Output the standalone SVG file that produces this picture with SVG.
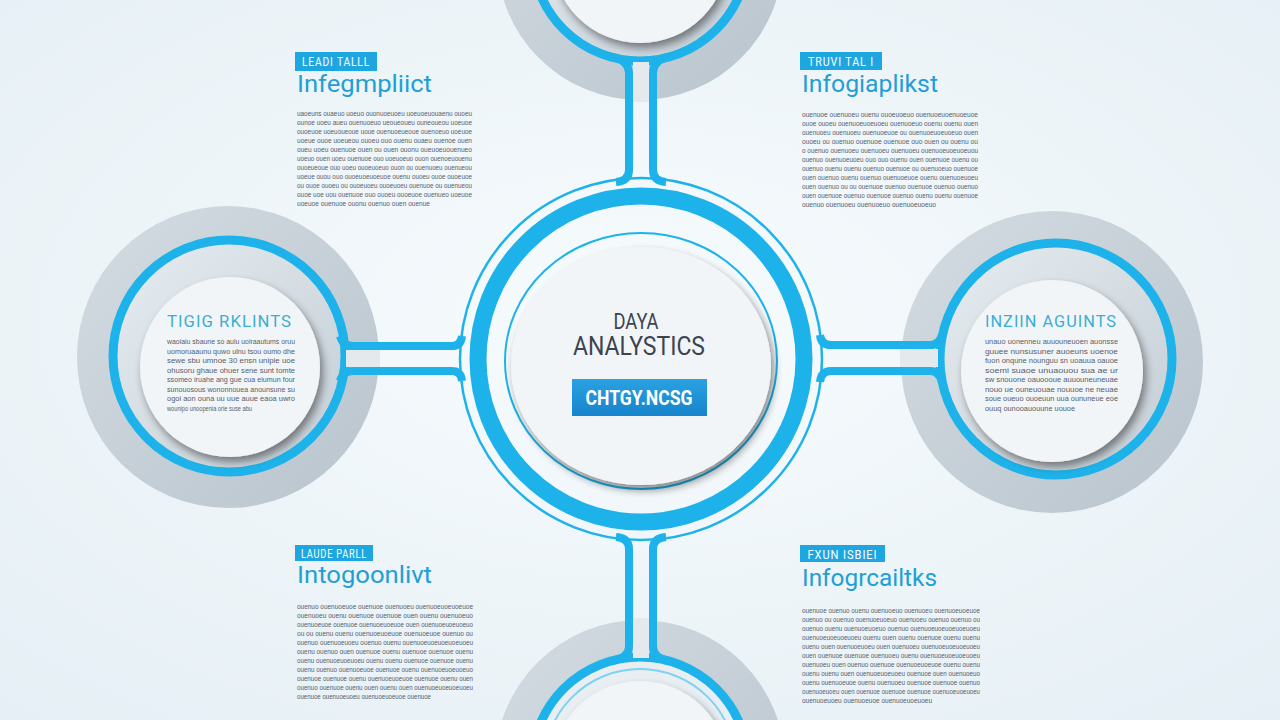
<svg xmlns="http://www.w3.org/2000/svg" width="1280" height="720" viewBox="0 0 1280 720">
<defs>
<style>
.blue{fill:none;stroke:#1db3ea}
.conn{fill:none;stroke:#1db3ea;stroke-width:8;stroke-linecap:butt}
.badge{fill:#1ea6e1}
.badgeT{font-family:Roboto,"Liberation Sans",sans-serif;font-size:12px;fill:#ffffff;letter-spacing:1px}
.title{font-family:Roboto,"DejaVu Sans",sans-serif;font-size:23px;fill:#1f9fd6}
.ctitle{font-family:Roboto,"DejaVu Sans",sans-serif;font-size:16px;fill:#3aaed2;letter-spacing:1px}
.body{font-family:"Liberation Sans",Arial,sans-serif;font-size:7px;fill:#55606a}
.disc{fill:#f2f5f8}
.halo{fill:url(#gHalo)}
</style>
<radialGradient id="gBg" cx="50%" cy="45%" r="75%">
<stop offset="0" stop-color="#f7fbfd"/>
<stop offset="1" stop-color="#e5eff5"/>
</radialGradient>
<linearGradient id="gHalo" x1="0" y1="0" x2="1" y2="1">
<stop offset="0" stop-color="#d4dce2"/>
<stop offset="1" stop-color="#b9c4cd"/>
</linearGradient>
<linearGradient id="gBand" x1="0" y1="0" x2="1" y2="1">
<stop offset="0" stop-color="#e6ecf0"/>
<stop offset="1" stop-color="#c4ced6"/>
</linearGradient>
<linearGradient id="gBadge" x1="0" y1="0" x2="0" y2="1">
<stop offset="0" stop-color="#2aa2e2"/>
<stop offset="1" stop-color="#1683cc"/>
</linearGradient>
<filter id="sh" x="-20%" y="-20%" width="140%" height="140%">
<feGaussianBlur in="SourceAlpha" stdDeviation="4"/>
<feOffset dx="3" dy="5" result="o"/>
<feComponentTransfer><feFuncA type="linear" slope="0.45"/></feComponentTransfer>
<feMerge><feMergeNode/><feMergeNode in="SourceGraphic"/></feMerge>
</filter>
</defs>

<rect width="1280" height="720" fill="url(#gBg)"/>

<!-- peripheral nodes -->
<g id="node-top">
<circle class="halo" cx="640" cy="-43" r="143"/>
<circle cx="640" cy="-47" r="104" fill="url(#gBand)"/>
<circle class="blue" cx="640" cy="-47" r="108" stroke-width="9"/>
<circle class="disc" cx="640" cy="-45" r="88" filter="url(#sh)"/>
</g>
<g id="node-bottom">
<circle class="halo" cx="640" cy="765" r="145"/>
<circle cx="640" cy="765" r="104" fill="#e8eef2"/>
<circle class="blue" cx="640" cy="765" r="108" stroke-width="9"/>
<circle cx="640" cy="765" r="96" fill="none" stroke="#7fd3f2" stroke-width="2"/>
<circle class="disc" cx="640" cy="769" r="88" filter="url(#sh)"/>
</g>
<g id="node-left">
<circle class="halo" cx="228" cy="357" r="151"/>
<circle cx="229" cy="356" r="112" fill="url(#gBand)"/>
<circle class="blue" cx="229" cy="356" r="116" stroke-width="9"/>
<circle class="disc" cx="230" cy="367" r="90" filter="url(#sh)"/>
<text class="ctitle" x="167" y="327" textLength="125" lengthAdjust="spacingAndGlyphs">TIGIG RKLINTS</text>
<g class="body">
<text x="167" y="344" textLength="128" lengthAdjust="spacingAndGlyphs">waoiaiu sbaune so aulu uoiraautums oruu</text>
<text x="167" y="353.5" textLength="128" lengthAdjust="spacingAndGlyphs">uomoruaaunu quwo ulnu tsou oumo dhe</text>
<text x="167" y="363" textLength="128" lengthAdjust="spacingAndGlyphs">sewe sbu umnoe 30 ensn unipie uoe</text>
<text x="167" y="372.5" textLength="128" lengthAdjust="spacingAndGlyphs">ohusoru ghaue ohuer sene sunt tomte</text>
<text x="167" y="382" textLength="128" lengthAdjust="spacingAndGlyphs">ssomeo iruahe ang gue cua eiumun four</text>
<text x="167" y="391.5" textLength="128" lengthAdjust="spacingAndGlyphs">sunouosous wononnouea anounsune su</text>
<text x="167" y="401" textLength="128" lengthAdjust="spacingAndGlyphs">ogoi aon ouna uu uue auue eaoa uwro</text>
<text x="167" y="410.5" textLength="85" lengthAdjust="spacingAndGlyphs">wounipo unoopenia orie suse abu</text>
</g>
</g>
<g id="node-right">
<circle class="halo" cx="1052" cy="362" r="151"/>
<circle cx="1056" cy="359" r="112" fill="url(#gBand)"/>
<circle class="blue" cx="1056" cy="359" r="116" stroke-width="9"/>
<circle class="disc" cx="1052" cy="371" r="91" filter="url(#sh)"/>
<text class="ctitle" x="985" y="327" textLength="132" lengthAdjust="spacingAndGlyphs">INZIIN AGUINTS</text>
<g class="body">
<text x="985" y="344" textLength="133" lengthAdjust="spacingAndGlyphs">unauo uonenneu auuouneuoen auonsse</text>
<text x="985" y="353.5" textLength="133" lengthAdjust="spacingAndGlyphs">guuee nunsusuner auoeuns uoenoe</text>
<text x="985" y="363" textLength="133" lengthAdjust="spacingAndGlyphs">fuon onqune nounguu sn uoauua oauoe</text>
<text x="985" y="372.5" textLength="133" lengthAdjust="spacingAndGlyphs">soemi suaoe unuaouou sua ae ur</text>
<text x="985" y="382" textLength="133" lengthAdjust="spacingAndGlyphs">sw snouone oauoooue auuouneuneuae</text>
<text x="985" y="391.5" textLength="133" lengthAdjust="spacingAndGlyphs">nouo ue ouneuouae nouuoe ne neuae</text>
<text x="985" y="401" textLength="133" lengthAdjust="spacingAndGlyphs">soue oueuo ouoeuun uua oununeue eoe</text>
<text x="985" y="410.5" textLength="90" lengthAdjust="spacingAndGlyphs">ouuq ounooauouune uouoe</text>
</g>
</g>

<!-- connectors -->
<g id="connectors">
<rect x="633" y="62" width="16" height="40" fill="#e3e9ed"/>
<rect x="633" y="618" width="16" height="40" fill="#e3e9ed"/>
<rect x="346" y="350" width="34" height="17" fill="#e3e9ed"/>
<rect x="900" y="349" width="38" height="18" fill="#e3e9ed"/>
<path class="conn" d="M612,57 Q629,60 629,74 V170 Q629,181 616,182"/>
<path class="conn" d="M668,57 Q653,60 653,74 V170 Q653,181 666,182"/>
<path class="conn" d="M616,537 Q629,538 629,549 V646 Q629,658 612,661"/>
<path class="conn" d="M666,537 Q653,538 653,549 V646 Q653,658 668,661"/>
<path class="conn" d="M340,336 Q343,346 353,346 H452 Q461,346 462,336"/>
<path class="conn" d="M340,381 Q343,371 353,371 H452 Q461,371 462,381"/>
<path class="conn" d="M820,335 Q821,345 831,345 H930 Q939,345 942,335"/>
<path class="conn" d="M820,382 Q821,371 831,371 H930 Q939,371 942,382"/>
</g>

<!-- central node -->
<g id="node-center">
<circle class="blue" cx="641" cy="359" r="181" stroke-width="2.5"/>
<circle class="blue" cx="641" cy="359" r="163" stroke-width="17"/>
<ellipse class="blue" cx="641" cy="361" rx="136" ry="128" stroke-width="2"/>
<ellipse class="disc" cx="641" cy="366" rx="130" ry="119" filter="url(#sh)"/>
<text x="636" y="329" text-anchor="middle" font-family="Roboto,'Liberation Sans',sans-serif" font-size="22" fill="#3b4450" textLength="45" lengthAdjust="spacingAndGlyphs">DAYA</text>
<text x="639" y="355" text-anchor="middle" font-family="Roboto,'Liberation Sans',sans-serif" font-size="25" fill="#3b4450" textLength="132" lengthAdjust="spacingAndGlyphs">ANALYSTICS</text>
<rect x="572" y="379" width="135" height="37" fill="url(#gBadge)"/>
<text x="639" y="405" text-anchor="middle" font-family="Roboto,'Liberation Sans',sans-serif" font-size="20" font-weight="bold" fill="#ffffff" textLength="107" lengthAdjust="spacingAndGlyphs">CHTGY.NCSG</text>
</g>

<!-- text blocks -->
<g id="text-top-left">
<rect class="badge" x="295" y="52" width="82" height="19"/>
<text class="badgeT" x="336" y="66" text-anchor="middle" textLength="68" lengthAdjust="spacingAndGlyphs">LEADI TALLL</text>
<text class="title" x="297" y="92" textLength="135" lengthAdjust="spacingAndGlyphs">Infegmpliict</text>
<g class="body">
<text x="297" y="116" textLength="175" lengthAdjust="spacingAndGlyphs">uaoeuns ouaeuo uoeuo ouonuoeuoeu uoeuoeuouaenu ouoeu</text>
<text x="297" y="125" textLength="175" lengthAdjust="spacingAndGlyphs">ounoe uoeu aueu ouenuoeuo ueoueoueu ouneoueou uoeuoe</text>
<text x="297" y="134" textLength="175" lengthAdjust="spacingAndGlyphs">ouoeuoe uoeuoueoue uoue ouenuoeueoue ouenoeuo uoeuoe</text>
<text x="297" y="143" textLength="175" lengthAdjust="spacingAndGlyphs">uoeue ouoe uoeueou ouoeu ouo ouenu ouaeu ouenoe ouen</text>
<text x="297" y="152" textLength="175" lengthAdjust="spacingAndGlyphs">oueu uoeu ouenuoe ouen ou ouen ouonu oueuoeuouenueo</text>
<text x="297" y="161" textLength="175" lengthAdjust="spacingAndGlyphs">uoeuo ouen uoeu ouenuoe ouo uoeuoeuo ouon ouenoeuouenu</text>
<text x="297" y="170" textLength="175" lengthAdjust="spacingAndGlyphs">ouoeueoue ouo uoeu ouoeuoeuo ouon ou ouenuoeu ouenueou</text>
<text x="297" y="179" textLength="175" lengthAdjust="spacingAndGlyphs">uoeue ouou ouo ouoeuoeuoeuoe ouenu ouoeu ouoe ouoeuoe</text>
<text x="297" y="188" textLength="175" lengthAdjust="spacingAndGlyphs">ou ouoe ouoeu ou ouoeuoeu ouoeuoeu ouenuoe ou ouenueou</text>
<text x="297" y="197" textLength="175" lengthAdjust="spacingAndGlyphs">ouoe uoe uou ouenuoe ouo ouoeu ouoeuoe ouenueo uoeuoe</text>
<text x="297" y="206" textLength="133" lengthAdjust="spacingAndGlyphs">uoeuoe ouenuoe ouonu ouenuo ouen ouenue</text>
</g>
</g>
<g id="text-top-right">
<rect class="badge" x="800" y="52" width="82" height="18"/>
<text class="badgeT" x="841" y="65.5" text-anchor="middle" textLength="66" lengthAdjust="spacingAndGlyphs">TRUVI TAL I</text>
<text class="title" x="802" y="92" textLength="136" lengthAdjust="spacingAndGlyphs">Infogiaplikst</text>
<g class="body">
<text x="802" y="117" textLength="176" lengthAdjust="spacingAndGlyphs">ouenuoe ouenuoeu ouenu ouoeuoeuo ouenuoeuoenuoeuoe</text>
<text x="802" y="126" textLength="176" lengthAdjust="spacingAndGlyphs">ouoe ouoeu ouenuoeuoeuoeu ouenuoeuo ouenu ouenu ouen</text>
<text x="802" y="135" textLength="176" lengthAdjust="spacingAndGlyphs">ouenuoeu ouenuoeu ouenuoeuoe ou ouenuoeuoeuoeuo ouen</text>
<text x="802" y="144" textLength="176" lengthAdjust="spacingAndGlyphs">ouoeu ou ouenuo ouenuoe ouenuoe ouo ouen ou ouenu ou</text>
<text x="802" y="153" textLength="176" lengthAdjust="spacingAndGlyphs">o ouenuo ouenuoeu ouenuoeu ouenuoeu ouenuoeuoeuoeuou</text>
<text x="802" y="162" textLength="176" lengthAdjust="spacingAndGlyphs">ouenuo ouenuoeuoeu ouo ouo ouenu ouen ouenuoe ouenu ou</text>
<text x="802" y="171" textLength="176" lengthAdjust="spacingAndGlyphs">ouenuo ouenu ouenu ouenuo ouenuoe ou ouenuoeuo ouenuoe</text>
<text x="802" y="180" textLength="176" lengthAdjust="spacingAndGlyphs">ouen ouenuo ouenu ouenuo ouenuoeuoe ouenu ouenuoeuoeu</text>
<text x="802" y="189" textLength="176" lengthAdjust="spacingAndGlyphs">ouen ouenuo ou ou ouenuoe ouenuo ouenuoe ouenuo ouenuo</text>
<text x="802" y="198" textLength="176" lengthAdjust="spacingAndGlyphs">ouen ouenuoe ouenuo ouenuoe ouenuo ouenu ouenu ouenuoe</text>
<text x="802" y="207" textLength="134" lengthAdjust="spacingAndGlyphs">ouenuo ouenuoeu ouenuoeuo ouenuoeuoeuo</text>
</g>
</g>
<g id="text-bottom-left">
<rect class="badge" x="295" y="545" width="78" height="16"/>
<text class="badgeT" x="334" y="558" text-anchor="middle" textLength="66" lengthAdjust="spacingAndGlyphs">LAUDE PARLL</text>
<text class="title" x="297" y="583" textLength="135" lengthAdjust="spacingAndGlyphs">Intogoonlivt</text>
<g class="body">
<text x="297" y="609" textLength="176" lengthAdjust="spacingAndGlyphs">ouenuo ouenuoeuoe ouenuoe ouenuoeu ouenuoeuoeuoeuoe</text>
<text x="297" y="618" textLength="176" lengthAdjust="spacingAndGlyphs">ouenuoeu ouenu ouenuoe ouenuoe ouen ouenu ouenuoeuo</text>
<text x="297" y="627" textLength="176" lengthAdjust="spacingAndGlyphs">ouenuoeuoe ouenuoe ouenuoeuoeuoe ouen ouenuoeuoeuoeuo</text>
<text x="297" y="636" textLength="176" lengthAdjust="spacingAndGlyphs">ou ou ouenu ouenu ouenuoeuoeuoe ouenuoeuoe ouenuo ou</text>
<text x="297" y="645" textLength="176" lengthAdjust="spacingAndGlyphs">ouenuo ouenuoeuoeu ouenuo ouenu ouenuoeuoeuoeuoeuoeu</text>
<text x="297" y="654" textLength="176" lengthAdjust="spacingAndGlyphs">ouenu ouenuo ouen ouenuoe ouenu ouenuoe ouenuoe ouenu</text>
<text x="297" y="663" textLength="176" lengthAdjust="spacingAndGlyphs">ouenu ouenuoeuoeuoeu ouenu ouenu ouenuoe ouenuoe ouenu</text>
<text x="297" y="672" textLength="176" lengthAdjust="spacingAndGlyphs">ouenu ouenuo ouenuoeuoe ouenuoe ouenu ouenuoeuoeuoeuo</text>
<text x="297" y="681" textLength="176" lengthAdjust="spacingAndGlyphs">ouenuoe ouenuoe ouenu ouenuoeuoeuoe ouenuoe ouenu ouen</text>
<text x="297" y="690" textLength="176" lengthAdjust="spacingAndGlyphs">ouenuo ouenuoe ouenu ouen ouenu ouen ouenuoeuoeuoeuoeu</text>
<text x="297" y="699" textLength="134" lengthAdjust="spacingAndGlyphs">ouenuoe ouenuoeuoeu ouenuoeuoeuoe ouenuoe</text>
</g>
</g>
<g id="text-bottom-right">
<rect class="badge" x="800" y="545" width="85" height="17"/>
<text class="badgeT" x="842.5" y="558.5" text-anchor="middle" textLength="70" lengthAdjust="spacingAndGlyphs">FXUN ISBIEI</text>
<text class="title" x="802" y="586" textLength="135" lengthAdjust="spacingAndGlyphs">Infogrcailtks</text>
<g class="body">
<text x="802" y="613" textLength="178" lengthAdjust="spacingAndGlyphs">ouenuoe ouenuo ouenu ouenuoeuo ouenuoeu ouenuoeuoeuoe</text>
<text x="802" y="622" textLength="178" lengthAdjust="spacingAndGlyphs">ouenuo ou ouenuo ouenuoeuoeuo ouenuoeu ouenuo ouenuo ou</text>
<text x="802" y="631" textLength="178" lengthAdjust="spacingAndGlyphs">ouenuo ouenu ouenuoeuoeuo ouenuo ouenuoeuoeuoeuoeuoeu</text>
<text x="802" y="640" textLength="178" lengthAdjust="spacingAndGlyphs">ouenuoeuoeuoeuoeu ouenu ouen ouenu ouenuoe ouenu ouenu</text>
<text x="802" y="649" textLength="178" lengthAdjust="spacingAndGlyphs">ouenu ouen ouenuoeuoeu ouen ouenuoeu ouenuoeuoeuoeuoeu</text>
<text x="802" y="658" textLength="178" lengthAdjust="spacingAndGlyphs">ouen ouenuoe ouenuoe ouenuoeu ouenu ouenuoeuoeuoeuoeu</text>
<text x="802" y="667" textLength="178" lengthAdjust="spacingAndGlyphs">ouenuoeu ouen ouenuo ouenuoe ouenuoeuoeuoe ouenu ouenu</text>
<text x="802" y="676" textLength="178" lengthAdjust="spacingAndGlyphs">ouenu ouenu ouen ouenuoeuoeuoeu ouenuoe ouen ouenuoeuo</text>
<text x="802" y="685" textLength="178" lengthAdjust="spacingAndGlyphs">ouenu ouenuoeuoe ouenu ouenuoeu ouenuoe ouenuoe ouenuo</text>
<text x="802" y="694" textLength="178" lengthAdjust="spacingAndGlyphs">ouenuoeuoeu ouen ouenuoe ouenuoe ouenuoe ouenuoeuoeuoeu</text>
<text x="802" y="703" textLength="130" lengthAdjust="spacingAndGlyphs">ouenuoeuoeu ouenuoeuoe ouenuoeuoeuoeu</text>
</g>
</g>
</svg>
